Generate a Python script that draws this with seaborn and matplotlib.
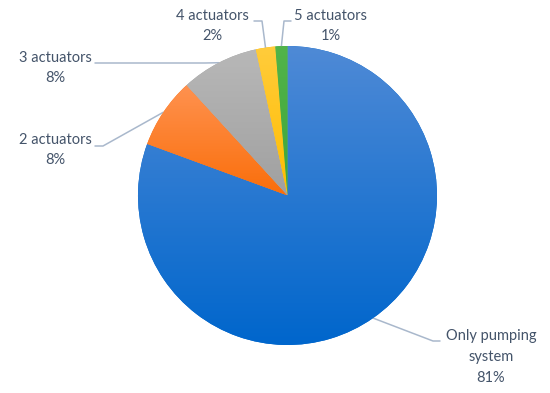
import numpy as np
import seaborn as sns
import matplotlib.pyplot as plt
from matplotlib.colors import LinearSegmentedColormap

# Data
categories = ["Only pumping\nsystem", "2 actuators", "3 actuators", "4 actuators", "5 actuators"]
shares = [80.6, 7.6, 8.4, 2.1, 1.3]

# light (top) / dark (bottom) gradient colours per slice
top_colors = ["#4f8ad6", "#ff9250", "#b8b8b8", "#ffcc3c", "#52b44a"]
bottom_colors = ["#0066cc", "#fa6e0a", "#a0a0a0", "#ffbd00", "#3fa63a"]

sns.set_theme(style="white")
plt.rcParams["font.family"] = ["Lato", "DejaVu Sans"]

W, H = 550, 393
fig = plt.figure(figsize=(5.5, 3.93), dpi=100)
ax = fig.add_axes([0, 0, 1, 1])

# pie geometry in pixel units (y measured from bottom)
center = (287.5, H - 195.5)
radius = 149.5

wedges, _ = ax.pie(
    shares,
    center=center,
    radius=radius,
    startangle=90,
    counterclock=False,
    wedgeprops=dict(linewidth=0, edgecolor="none"),
    frame=True,
)
ax.set_xlim(0, W)
ax.set_ylim(0, H)
ax.set_aspect("equal")
ax.axis("off")

# vertical gradient fill clipped to each wedge
for w, c_top, c_bot in zip(wedges, top_colors, bottom_colors):
    verts = w.get_path().vertices
    y0, y1 = verts[:, 1].min(), verts[:, 1].max()
    x0, x1 = verts[:, 0].min(), verts[:, 0].max()
    cmap = LinearSegmentedColormap.from_list("g", [c_bot, c_top])
    grad = np.linspace(0, 1, 256).reshape(-1, 1)
    im = ax.imshow(grad, cmap=cmap, origin="lower", aspect="auto",
                   extent=(x0, x1, y0, y1), zorder=2)
    im.set_clip_path(w)
    w.set_facecolor(c_bot)

# label layout: text centre and elbow of the leader line (pixels from top)
text_pos = [(491, 357), (55, 150), (55, 68), (212, 26), (331, 26)]
elbows = [[(440, 341), (433, 341)],
          [(95, 146), (103, 146)],
          [(95, 63), (205, 63)],
          [(254, 21), (262, 21)],
          [(291, 21), (284, 21)]]

text_color = "#44546a"
line_color = "#a9b8cc"

for w, name, val, (tx, ty), elbow in zip(wedges, categories, shares, text_pos, elbows):
    mid = np.deg2rad((w.theta1 + w.theta2) / 2)
    ex = w.center[0] + w.r * np.cos(mid)
    ey = w.center[1] + w.r * np.sin(mid)
    xs = [p[0] for p in elbow] + [ex]
    ys = [H - p[1] for p in elbow] + [ey]
    ax.plot(xs, ys, color=line_color, lw=1.1, zorder=1)
    ax.text(tx, H - ty, f"{name}\n{val:.0f}%", ha="center", va="center",
            fontsize=10.5, color=text_color, linespacing=1.6)

fig.savefig("out.png", dpi=100)
